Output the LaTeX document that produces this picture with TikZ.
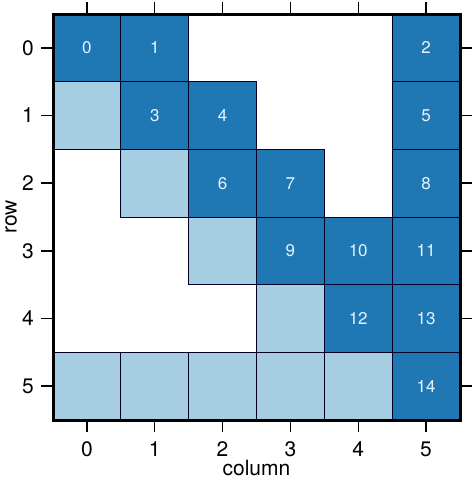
\documentclass[tikz,border=0pt]{standalone}
\usepackage{fontspec}
\setmainfont{TeX Gyre Heros}
\definecolor{dk}{HTML}{1F78B4}
\definecolor{lt}{HTML}{A6CEE3}
\definecolor{txt}{HTML}{E6F2FB}
\begin{document}
\begin{tikzpicture}[x=1pt,y=-1pt,
  cellbase/.style={draw=black!85!blue,line width=0.7pt,minimum width=67.83pt,minimum height=67.7pt,inner sep=0pt,anchor=center,font=\fontsize{17}{17}\selectfont,text=txt},
  dkcell/.style={cellbase,fill=dk},
  ltcell/.style={cellbase,fill=lt},
  ticklab/.style={font=\fontsize{21}{21}\selectfont,inner sep=0pt},
  tk/.style={line width=1.4pt}]
\useasboundingbox (0,0) rectangle (474,483);
\def\cw{67.83}
\def\ch{67.67}
% cells: (col,row)
\foreach \c/\r/\s/\t in {0/0/dkcell/0,1/0/dkcell/1,5/0/dkcell/2,
  0/1/ltcell/{},1/1/dkcell/3,2/1/dkcell/4,5/1/dkcell/5,
  1/2/ltcell/{},2/2/dkcell/6,3/2/dkcell/7,5/2/dkcell/8,
  2/3/ltcell/{},3/3/dkcell/9,4/3/dkcell/10,5/3/dkcell/11,
  3/4/ltcell/{},4/4/dkcell/12,5/4/dkcell/13,
  0/5/ltcell/{},1/5/ltcell/{},2/5/ltcell/{},3/5/ltcell/{},4/5/ltcell/{},5/5/dkcell/14}
  \node[\s] (c\c\r) at ({53+\cw*(\c+0.5)},{14+\ch*(\r+0.5)}) {\t};
% frame
\node[draw,line width=3pt,minimum width=407pt,minimum height=406pt,inner sep=0pt] (frame) at (256.5,217) {};
% ticks and labels
\foreach \i in {0,...,5}{
  \coordinate (tb\i) at ({53+\cw*(\i+0.5)},420);
  \coordinate (tt\i) at ({53+\cw*(\i+0.5)},14);
  \coordinate (tl\i) at (53,{14+\ch*(\i+0.5)});
  \coordinate (tr\i) at (460,{14+\ch*(\i+0.5)});
  \draw[tk] (tb\i) -- ++(0,12);
  \draw[tk] (tt\i) -- ++(0,-12);
  \draw[tk] (tl\i) -- ++(-12,0);
  \draw[tk] (tr\i) -- ++(12,0);
  \node[ticklab] (xl\i) at ({53+\cw*(\i+0.5)},449) {\i};
  \node[ticklab,anchor=east] (yl\i) at (34,{14+\ch*(\i+0.5)}) {\i};
}
\node[ticklab] (xlab) at (256.5,468) {column};
\node[ticklab,rotate=90] (ylab) at (11,217) {row};
\end{tikzpicture}
\end{document}
